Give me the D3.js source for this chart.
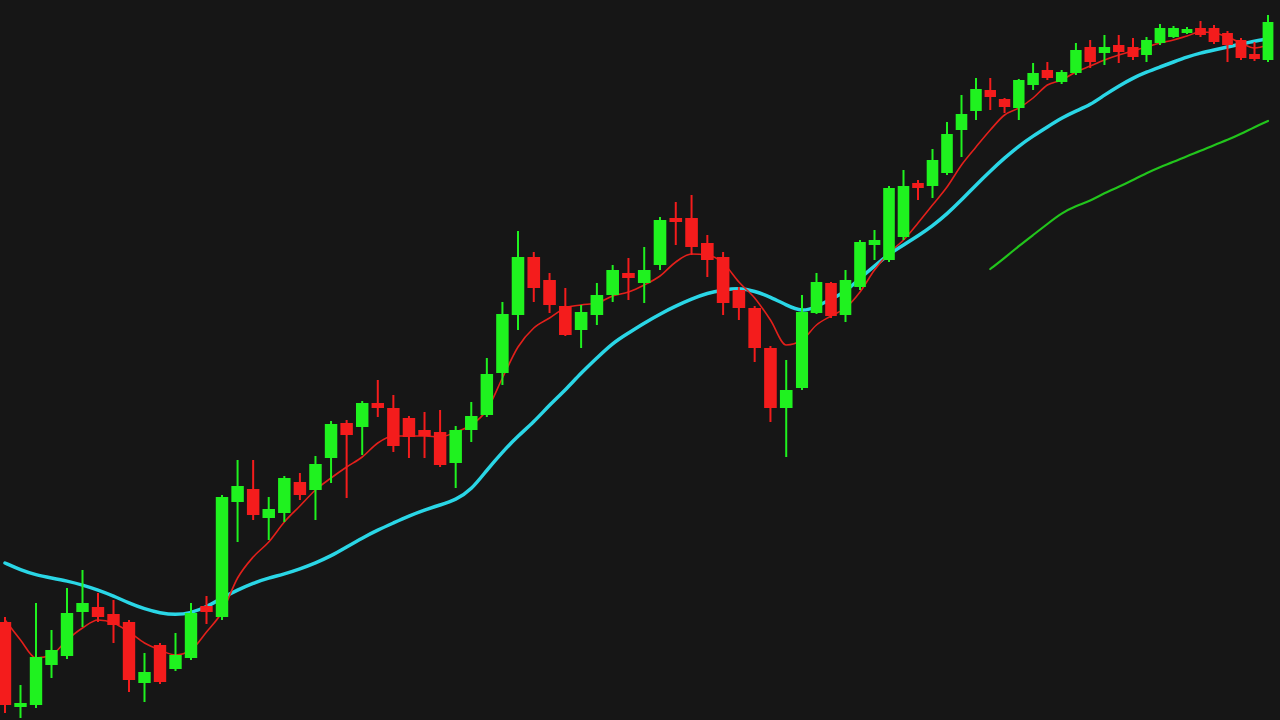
<!DOCTYPE html>
<html>
<head>
<meta charset="utf-8">
<script src="https://cdn.jsdelivr.net/npm/d3@7"></script>
<style>
  html, body { margin: 0; padding: 0; background: #161616; }
  svg { display: block; }
</style>
</head>
<body>
<svg id="chart" width="1280" height="720"></svg>
<script>
// ---- Data (price units) ----
const opens  = [98,13,15,55,64,108,113,106,98,37,75,51,62,114,103,218,231,202,207,238,230,262,297,293,317,312,302,290,288,257,290,305,347,405,463,440,414,390,405,425,447,437,455,502,502,477,463,430,412,372,312,332,407,437,405,433,475,460,483,537,534,547,590,609,630,621,612,635,650,638,647,673,667,675,673,665,677,683,687,692,692,687,680,666,660];
const highs  = [103,35,117,90,132,150,127,120,100,67,77,87,117,124,225,260,260,223,244,247,264,299,300,319,340,325,304,308,310,294,318,362,418,489,468,447,432,415,437,455,462,473,503,518,525,485,468,433,414,374,360,425,447,438,450,480,490,534,550,540,571,598,625,642,642,622,641,657,658,650,677,680,685,685,682,683,696,694,693,699,695,689,682,678,705];
const lows   = [7,2,12,42,61,93,98,77,28,18,36,49,60,96,100,178,200,180,198,220,200,237,222,265,303,268,262,262,253,232,278,303,335,390,418,407,384,372,395,418,420,417,450,475,465,443,405,400,358,298,263,330,406,402,398,430,460,458,480,520,522,545,563,600,610,607,600,630,640,636,645,652,655,657,660,658,675,682,686,683,676,658,660,659,658];
const closes = [15,17,63,70,107,117,103,95,40,48,38,65,107,108,223,234,205,211,242,225,256,296,285,317,312,274,283,284,255,290,304,346,406,463,432,415,385,408,425,450,442,450,500,498,473,460,417,412,372,312,330,408,438,404,440,478,480,532,534,532,560,586,606,631,623,613,640,647,642,648,670,658,673,668,663,680,692,692,691,685,678,675,662,661,698];

// fast moving average (thin red)
const maFast = [100,80,62,65,80,92,100,97,88,77,70,65,70,88,108,142,163,178,198,214,230,242,253,263,277,284,284,284,283,288,295,310,342,373,392,402,412,415,417,424,428,435,444,458,466,465,457,438,422,400,375,380,395,404,412,428,450,467,480,497,515,533,555,573,590,605,612,622,635,640,648,654,660,665,669,673,677,680,684,688,687,683,677,672,675];
// medium moving average (thick cyan)
const maMid = [157,150,145,142,139,135,130,124,117,111,107,105,107,113,122,130,137,142,146,151,157,164,173,182,190,197,204,210,215,220,230,250,268,284,298,315,330,347,362,377,387,397,406,414,421,427,430,432,429,423,415,408,413,421,428,442,454,466,475,484,494,506,520,535,549,562,574,584,593,602,609,615,625,634,642,648,653,658,663,667,670,673,676,679,681];
// slow moving average (green), starts at candle 64
const maSlowStart = 64;
const maSlow = [451,462,474,485,496,507,514,519,527,533,540,547,553,558,564,569,575,580,586,593,599];

// ---- Colours ----
const UP = "#1ff21f", DOWN = "#f41c1c";

const W = 1280, H = 720;
const svg = d3.select("#chart");
svg.append("rect").attr("width", W).attr("height", H).attr("fill", "#161616");

const candles = opens.map((o, i) => ({ i, o, h: highs[i], l: lows[i], c: closes[i] }));

// piecewise-linear time scale (the picture is slightly compressed toward the right)
const x = d3.scaleLinear()
  .domain([0, 14, 33, 51, 63, 74, 84])
  .range([5, 222, 518, 802, 976, 1133, 1268]);
const y = d3.scaleLinear().domain([0, 720]).range([H, 0]);

const lineGen = (offset, curve) => d3.line()
  .x((d, k) => x(k + offset))
  .y(d => y(d))
  .curve(curve);

// lines below candles
svg.append("path").datum(maMid)
  .attr("d", lineGen(0, d3.curveBasis)).attr("fill", "none")
  .attr("stroke", "#2ad6e6").attr("stroke-width", 3.5).attr("stroke-linecap", "round");

svg.append("path").datum(maFast)
  .attr("d", lineGen(0, d3.curveMonotoneX)).attr("fill", "none")
  .attr("stroke", "#e3201b").attr("stroke-width", 1.6);

svg.append("path").datum(maSlow)
  .attr("d", lineGen(maSlowStart, d3.curveBasis)).attr("fill", "none")
  .attr("stroke", "#22c51c").attr("stroke-width", 2.2).attr("stroke-linecap", "round");

// candles
const g = svg.append("g");
const bw = i => 0.8 * (x(i + 0.5) - x(i - 0.5));
const cg = g.selectAll("g.c").data(candles).enter().append("g")
  .attr("fill", d => d.c >= d.o ? UP : DOWN)
  .attr("stroke", d => d.c >= d.o ? UP : DOWN);

cg.append("line")
  .attr("x1", d => x(d.i)).attr("x2", d => x(d.i))
  .attr("y1", d => y(d.h)).attr("y2", d => y(d.l))
  .attr("stroke-width", 2);

cg.append("rect")
  .attr("x", d => x(d.i) - bw(d.i) / 2)
  .attr("width", d => bw(d.i))
  .attr("y", d => y(Math.max(d.o, d.c)))
  .attr("height", d => Math.max(2, Math.abs(y(d.o) - y(d.c))))
  .attr("stroke", "none");
</script>
</body>
</html>
